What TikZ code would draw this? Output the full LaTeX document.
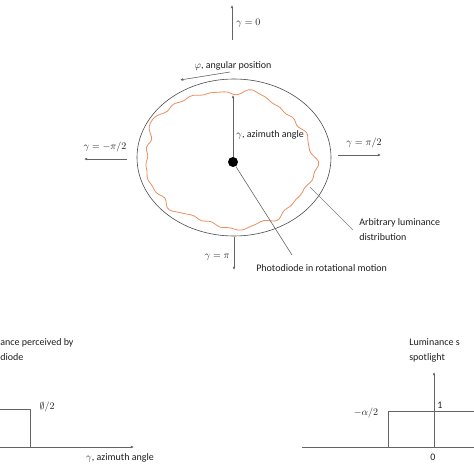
\documentclass[tikz,border=0pt]{standalone}
\usepackage{amsmath}
\usepackage{amssymb}
\usepackage{fontspec}
\setmainfont{Carlito}
\usetikzlibrary{arrows.meta}
\usetikzlibrary{positioning}
\definecolor{wavecolor}{RGB}{236,142,96}
\definecolor{linecolor}{RGB}{100,100,100}
\definecolor{inkcolor}{RGB}{30,30,30}
\tikzset{ptr/.style = {-{Latex[length=3.2pt, width=2.8pt]}},
         lab/.style = {text = inkcolor, inner sep = 0pt}}
\newcommand{\wobble}[1]{(1 + 0.03*sin(2*#1 + 30) + 0.025*sin(5*#1 + 70) + 0.02*sin(9*#1) + 0.016*sin(14*#1 + 20) + 0.012*sin(19*#1 + 80) + 0.01*sin(27*#1 + 5))}

\begin{document}
\begin{tikzpicture}[x = 1pt, y = -1pt, line width = 0.6pt,
                    font = \fontsize{10}{15}\selectfont]
      \useasboundingbox (0, 0) rectangle (474, 474);
      \clip (0, 0) rectangle (474, 474);

      \begin{scope}
        \draw [inkcolor!80] (234, 157.5) ellipse [x radius = 97pt, y radius = 78.5pt];
        \draw [wavecolor, line width = 0.8pt] plot [smooth cycle, samples = 150, domain = 0:357.6]
          ({229 + 83*\wobble{\x}*cos(\x)}, {159 + 69*\wobble{\x}*sin(\x)});
        \node (pd) [circle, fill = black, inner sep = 0pt, minimum size = 10pt] at (233, 162) {};

        \coordinate (up0) at (232, 40);
        \coordinate (up1) at (232, 5);
        \coordinate (phi0) at (230, 72);
        \coordinate (phi1) at (180, 80);
        \coordinate (left0) at (127, 159);
        \coordinate (left1) at (84, 159);
        \coordinate (right0) at (338, 155);
        \coordinate (right1) at (381, 155);
        \coordinate (down0) at (234, 237);
        \coordinate (down1) at (234, 270);
        \coordinate (azi) at (233, 95);
        \coordinate (pdend) at (292, 255);
        \coordinate (dist0) at (310, 187);
        \coordinate (dist1) at (353, 230);

        \draw [ptr, linecolor] (up0) -- (up1);
        \draw [ptr, linecolor] (phi0) -- (phi1);
        \draw [ptr, linecolor] (left0) -- (left1);
        \draw [ptr, linecolor] (right0) -- (right1);
        \draw [ptr, linecolor] (down0) -- (down1);
        \draw [ptr, linecolor] (pd) -- (azi);
        \draw [linecolor] (pd) -- (pdend);
        \draw [linecolor!80] (dist0) -- (dist1);

        \node (gzero) [lab, anchor = west] at (236, 23) {$\gamma = 0$};
        \node (gphi) [lab] at (233, 66) {$\varphi$, angular position};
        \node (gazi) [lab, anchor = west] at (236, 135) {$\gamma$, azimuth angle};
        \node (gleft) [lab] at (105, 147) {$\gamma = -\pi/2$};
        \node (gright) [lab] at (364, 143) {$\gamma = \pi/2$};
        \node (gpi) [lab, anchor = east] at (230, 257) {$\gamma = \pi$};
        \node (pdlab) [lab, anchor = west] at (256, 268) {Photodiode in rotational motion};
        \node (distlab) [lab, anchor = north west, align = left] at (359, 218) {Arbitrary luminance\\distribution};
      \end{scope}

      \begin{scope}
        \coordinate (bl0) at (0, 447);
        \coordinate (bl1) at (134, 447);
        \draw [ptr, linecolor] (bl0) -- (bl1);
        \draw [linecolor] (0, 409) -- (30, 409) -- (30, 447);
        \node (half) [lab] at (47, 407) {$\emptyset/2$};
        \node (blx) [lab] at (120, 458) {$\gamma$, azimuth angle};
        \node (blt) [lab, anchor = north west, align = left] at (0, 338) {ance perceived by\\diode};
      \end{scope}

      \begin{scope}
        \coordinate (br0) at (434, 447);
        \coordinate (br1) at (434, 372);
        \draw [linecolor] (302, 447) -- (474, 447);
        \draw [ptr, linecolor] (br0) -- (br1);
        \draw [linecolor] (474, 411) -- (388, 411) -- (388, 447);
        \node (alpha) [lab] at (366, 413) {$-\alpha/2$};
        \node (one) [lab] at (440, 405) {1};
        \node (zero) [lab] at (433, 457) {0};
        \node (brt) [lab, anchor = north west, align = left] at (409, 338) {Luminance s\\spotlight};
      \end{scope}

    \end{tikzpicture}
\end{document}
